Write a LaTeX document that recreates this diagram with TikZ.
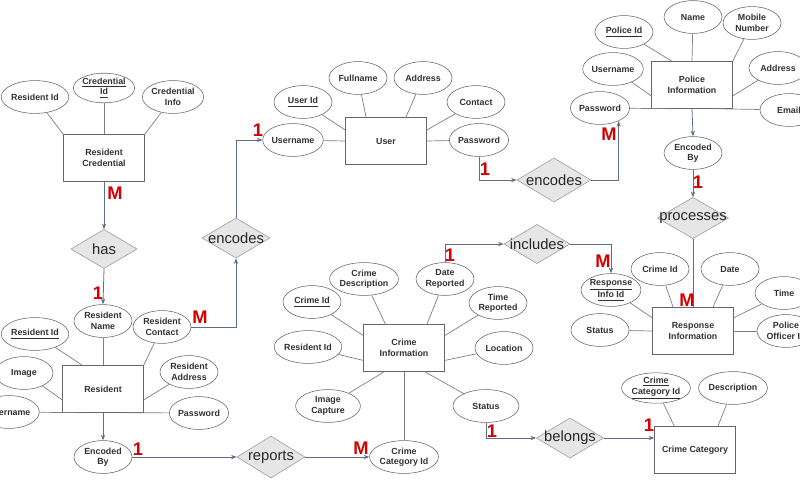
\documentclass[tikz,border=0pt]{standalone}
\usepackage{fontspec}
\setmainfont{Liberation Sans}
\usetikzlibrary{arrows.meta, positioning, shapes.geometric}
\definecolor{linegray}{RGB}{128,128,128}
\definecolor{slate}{RGB}{92,110,140}
\definecolor{cardred}{RGB}{210,0,0}
\definecolor{relfill}{RGB}{230,230,230}
\definecolor{txtgray}{RGB}{50,50,50}
\tikzset{
    entity/.style={rectangle, draw=black!60, fill=white, minimum width=2.02cm, minimum height=1.17cm,
        align=center, text=txtgray, font=\bfseries\fontsize{6.3}{7.4}\selectfont},
    attr/.style={ellipse, draw=black!60, fill=white, minimum width=1.45cm, minimum height=0.82cm,
        inner sep=0pt, align=center, text=txtgray, font=\bfseries\fontsize{6.3}{7.4}\selectfont},
    rel/.style={diamond, draw=black!40, fill=relfill, inner sep=0pt, text=black!85,
        font=\fontsize{10.5}{12}\selectfont},
    link/.style={draw=linegray, line width=0.5pt},
    conn/.style={draw=slate, line width=0.55pt, -{Stealth[length=4pt,width=3pt]}},
    card/.style={text=cardred, inner sep=0pt, font=\bfseries\fontsize{13}{13}\selectfont}
}
\newcommand{\rtext}[1]{\makebox[0pt]{#1}}

\begin{document}
\begin{tikzpicture}[x=0.025cm, y=-0.025cm]
    \useasboundingbox[fill=white] (0,0) rectangle (800,480);
    % Entities
    \node[entity] (rc)    at (104,158) {Resident\\Credential};
    \node[entity] (usr)   at (386,141) {User};
    \node[entity] (pol)   at (692,85)  {Police\\Information};
    \node[entity] (res)   at (103,389) {Resident};
    \node[entity] (crime) at (404,348) {Crime\\Information};
    \node[entity] (resp)  at (693,331) {Response\\Information};
    \node[entity] (cat)   at (695,450) {Crime Category};
    % Relationships
    \node[rel, minimum width=1.65cm, minimum height=0.98cm] (has)  at (104,249) {\rtext{has}};
    \node[rel, minimum width=1.7cm,  minimum height=1.0cm]  (encL) at (236,238) {\rtext{encodes}};
    \node[rel, minimum width=1.85cm, minimum height=1.1cm]  (encT) at (554,180) {\rtext{encodes}};
    \node[rel, minimum width=1.78cm, minimum height=1.03cm] (proc) at (693,218) {\rtext{processes}};
    \node[rel, minimum width=1.65cm, minimum height=0.98cm] (incl) at (537,244) {\rtext{includes}};
    \node[rel, minimum width=1.68cm, minimum height=1.0cm]  (bel)  at (570,438) {\rtext{belongs}};
    \node[rel, minimum width=1.7cm,  minimum height=1.05cm] (rep)  at (271,457) {\rtext{reports}};
    % Resident Credential attributes
    \node[attr] (rcRid)  at (35,97)  {Resident Id};
    \node[attr, minimum height=0.74cm] (rcCid) at (104,88) {\underline{Credential}\\\underline{Id}};
    \node[attr] (rcInfo) at (173,97) {Credential\\Info};
    \draw[link] (rcRid) -- (rc.north west);
    \draw[link] (rcCid) -- (rc.north);
    \draw[link] (rcInfo) -- (rc.north east);
    % User attributes
    \node[attr] (uId)   at (303,102) {\underline{User Id}};
    \node[attr] (uFull) at (358,78)  {Fullname};
    \node[attr] (uAddr) at (423,78)  {Address};
    \node[attr] (uCont) at (476,102) {Contact};
    \node[attr] (uName) at (293,140) {Username};
    \node[attr] (uPass) at (479,140) {Password};
    \draw[link] (uId) -- (usr.165);
    \draw[link] (uFull) -- (usr.130);
    \draw[link] (uAddr) -- (usr.50);
    \draw[link] (uCont) -- (usr.15);
    \draw[link] (uName) -- (usr.west);
    \draw[link] (uPass) -- (usr.east);
    % Police Information attributes
    \node[attr] (pId)   at (624,32)  {\underline{Police Id}};
    \node[attr] (pName) at (693,17)  {Name};
    \node[attr] (pMob)  at (752,23)  {Mobile\\Number};
    \node[attr] (pUser) at (613,69)  {Username};
    \node[attr] (pAddr) at (778,68)  {Address};
    \node[attr] (pMail) at (789,110) {Email};
    \node[attr] (pPass) at (600,108) {Password};
    \node[attr] (pEnc)  at (693,153) {Encoded\\By};
    \draw[link] (pId) -- (pol.130);
    \draw[link] (pName) -- (pol.north);
    \draw[link] (pMob) -- (pol.north east);
    \draw[link] (pUser) -- (pol.195);
    \draw[link] (pAddr) -- (pol.345);
    \draw[link] (pMail) -- (pol.312);
    \draw[link] (pPass) -- (pol.230);
    % Resident attributes
    \node[attr] (rName) at (103,321) {Resident\\Name};
    \node[attr] (rCont) at (162,327) {Resident\\Contact};
    \node[attr] (rId)   at (35,334)  {\underline{Resident Id}};
    \node[attr] (rImg)  at (24,373)  {Image};
    \node[attr] (rUser) at (9,412)   {Username};
    \node[attr] (rAddr) at (189,372) {Resident\\Address};
    \node[attr] (rPass) at (199,413) {Password};
    \node[attr] (rEnc)  at (103,457) {Encoded\\By};
    \draw[link] (rName) -- (res.north);
    \draw[link] (rCont) -- (res.north east);
    \draw[link] (rId) -- (res.131);
    \draw[link] (rImg) -- (res.195);
    \draw[link] (rUser) -- (res.228);
    \draw[link] (rAddr) -- (res.345);
    \draw[link] (rPass) -- (res.311);
    % Crime Information attributes
    \node[attr] (cDesc) at (364,279) {Crime\\Description};
    \node[attr] (cDate) at (445,279) {Date\\Reported};
    \node[attr] (cId)   at (312,302) {\underline{Crime Id}};
    \node[attr] (cTime) at (498,303) {Time\\Reported};
    \node[attr, minimum width=1.65cm] (cRid)  at (308,347) {Resident Id};
    \node[attr] (cLoc)  at (504,348) {Location};
    \node[attr, minimum width=1.62cm] (cImg)  at (328,406) {Image\\Capture};
    \node[attr, minimum width=1.65cm] (cStat) at (486,406) {Status};
    \node[attr, minimum width=1.62cm] (cCat)  at (404,457) {Crime\\Category Id};
    \draw[link] (cDesc) -- (crime.128);
    \draw[link] (cDate) -- (crime.46);
    \draw[link] (cId) -- (crime.163);
    \draw[link] (cTime) -- (crime.17);
    \draw[link] (cRid) -- (crime.197);
    \draw[link] (cLoc) -- (crime.343);
    \draw[link] (cImg) -- (crime.230);
    \draw[link] (cStat) -- (crime.311);
    \draw[link] (cCat) -- (crime.south);
    % Response Information attributes
    \node[attr] (sId)   at (611,290) {\underline{Response}\\\underline{Info Id}};
    \node[attr] (sCid)  at (660,269) {Crime Id};
    \node[attr] (sDate) at (730,269) {Date};
    \node[attr] (sTime) at (784,293) {Time};
    \node[attr] (sOff)  at (786,331) {Police\\Officer Id};
    \node[attr] (sStat) at (600,330) {Status};
    \draw[link] (sId) -- (resp.162);
    \draw[link] (sCid) -- (resp.130);
    \draw[link] (sDate) -- (resp.50);
    \draw[link] (sTime) -- (resp.18);
    \draw[link] (sOff) -- (resp.east);
    \draw[link] (sStat) -- (resp.west);
    % Crime Category attributes
    \node[attr, minimum height=0.76cm] (kId) at (656,388) {\underline{Crime}\\\underline{Category Id}};
    \node[attr] (kDesc) at (733,388) {Description};
    \draw[link] (kId) -- (cat.131);
    \draw[link] (kDesc) -- (cat.46);
    % Relationship connectors
    \draw[conn] (rc.south) -- (has.north);
    \draw[conn] (has.south) -- (rName.north);
    \draw[conn] (rCont.east) -| (encL.south);
    \draw[conn] (encL.north) |- (uName.west);
    \draw[conn] (uPass.south) |- (encT.west);
    \draw[conn] (encT.east) -| (pPass.-35);
    \draw[conn] (pol.south) -- (pEnc.north);
    \draw[conn] (pEnc.south) -- (proc.north);
    \draw[link, draw=slate] (proc.south) -- (resp.north);
    \draw[conn] (cDate.north) |- (incl.west);
    \draw[conn] (incl.east) -| (sId.north);
    \draw[conn] (cStat.south) |- (bel.west);
    \draw[conn] (bel.east) -- (bel.east -| cat.west);
    \draw[conn] (res.south) -- (rEnc.north);
    \draw[conn] (rEnc.east) -- (rep.west);
    \draw[conn] (rep.east) -- (cCat.west);
    % Cardinalities
    \node[card] (cdRc)    at (115,193) {M};
    \node[card] (cdRname) at (98,293)  {1};
    \node[card] (cdRcont) at (200,317) {M};
    \node[card] (cdUname) at (258,130) {1};
    \node[card] (cdUpass) at (485,169) {1};
    \node[card] (cdPpass) at (609,134) {M};
    \node[card] (cdPenc)  at (698,182) {1};
    \node[card] (cdResp)  at (687,300) {M};
    \node[card] (cdCdate) at (450,255) {1};
    \node[card] (cdSid)   at (603,261) {M};
    \node[card] (cdCstat) at (492,431) {1};
    \node[card] (cdCat)   at (649,425) {1};
    \node[card] (cdRenc)  at (138,449) {1};
    \node[card] (cdCcat)  at (361,448) {M};
\end{tikzpicture}
\end{document}
